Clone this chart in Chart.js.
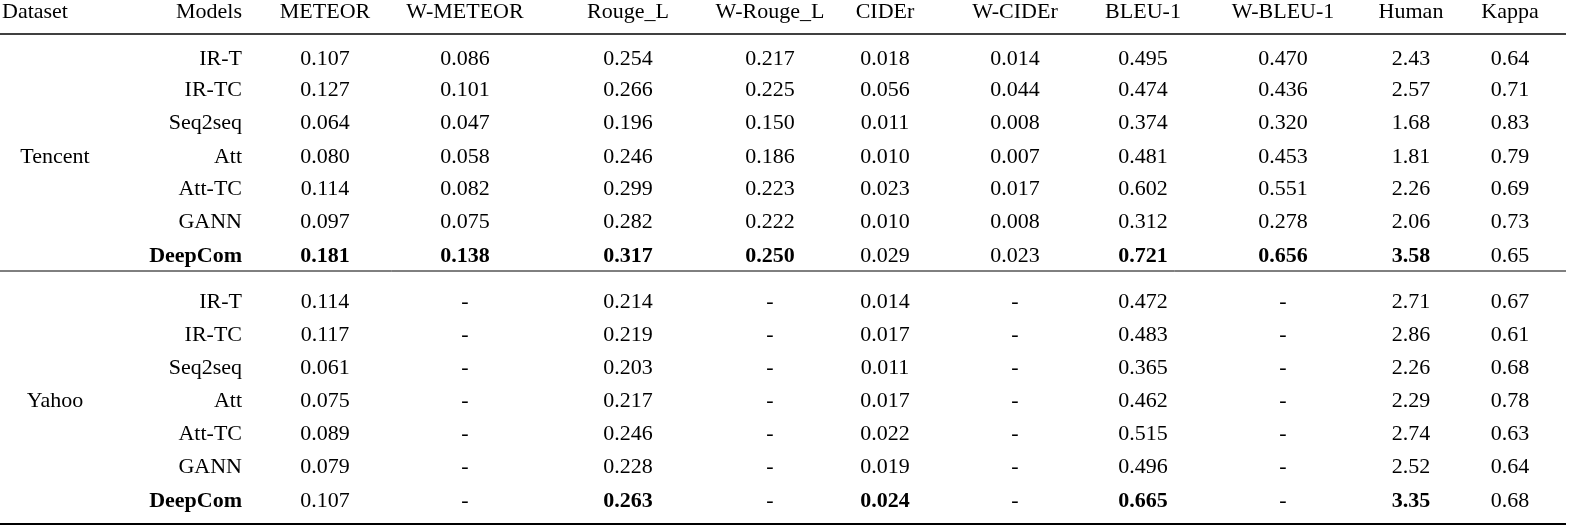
<!DOCTYPE html>
<html><head><meta charset="utf-8">
<script src="https://cdn.jsdelivr.net/npm/chart.js@4.4.1/dist/chart.umd.min.js"></script>
<style>html,body{margin:0;padding:0;background:#fff}#w{width:1571px;height:530px}</style>
</head><body><div id="w"><canvas id="c" width="1571" height="530"></canvas></div>
<script>
// ---- data ----
const headers = ["Dataset","Models","METEOR","W-METEOR","Rouge_L","W-Rouge_L","CIDEr","W-CIDEr","BLEU-1","W-BLEU-1","Human","Kappa"];
const datasets = ["Tencent","Yahoo"];
const models = ["IR-T","IR-TC","Seq2seq","Att","Att-TC","GANN","DeepCom"];
const tencentValues = [
 ["0.107","0.086","0.254","0.217","0.018","0.014","0.495","0.470","2.43","0.64"],
 ["0.127","0.101","0.266","0.225","0.056","0.044","0.474","0.436","2.57","0.71"],
 ["0.064","0.047","0.196","0.150","0.011","0.008","0.374","0.320","1.68","0.83"],
 ["0.080","0.058","0.246","0.186","0.010","0.007","0.481","0.453","1.81","0.79"],
 ["0.114","0.082","0.299","0.223","0.023","0.017","0.602","0.551","2.26","0.69"],
 ["0.097","0.075","0.282","0.222","0.010","0.008","0.312","0.278","2.06","0.73"],
 ["0.181","0.138","0.317","0.250","0.029","0.023","0.721","0.656","3.58","0.65"]];
const yahooValues = [
 ["0.114","-","0.214","-","0.014","-","0.472","-","2.71","0.67"],
 ["0.117","-","0.219","-","0.017","-","0.483","-","2.86","0.61"],
 ["0.061","-","0.203","-","0.011","-","0.365","-","2.26","0.68"],
 ["0.075","-","0.217","-","0.017","-","0.462","-","2.29","0.78"],
 ["0.089","-","0.246","-","0.022","-","0.515","-","2.74","0.63"],
 ["0.079","-","0.228","-","0.019","-","0.496","-","2.52","0.64"],
 ["0.107","-","0.263","-","0.024","-","0.665","-","3.35","0.68"]];
const tencentBold = [0,1,2,3,6,7,8];
const yahooBold = [2,4,6,8];

// ---- layout ----
const colX = [55,242,325,465,628,770,885,1015,1143,1283,1411,1510];
const headerY = 12;
const rowY = [[59,90,123,157,189,222,256],[302,335,368,401,434,467,501]];
const groupY = [157,401];
const rules = [[34,1.6],[271,1],[524,1.8]];

const tablePlugin = {
  id:'table',
  afterDraw(chart){
    const ctx=chart.ctx, xs=chart.scales.x, ys=chart.scales.y;
    const X=v=>xs.getPixelForValue(v), Y=v=>ys.getPixelForValue(v);
    ctx.save();
    ctx.fillStyle='#000'; ctx.textBaseline='middle';
    const font=b=>(b?'bold ':'')+'22px "Liberation Serif", "DejaVu Serif", serif';
    const txt=(s,x,y,align,b)=>{ctx.font=font(b);ctx.textAlign=align;ctx.fillText(s,X(x),Y(y));};
    headers.forEach((h,i)=>{
      if(i===0) txt(h,2,headerY,'left');
      else if(i===1) txt(h,colX[1],headerY,'right');
      else txt(h,colX[i],headerY,'center');
    });
    [tencentValues,yahooValues].forEach((vals,g)=>{
      txt(datasets[g],colX[0],groupY[g],'center');
      const bold = g===0?tencentBold:yahooBold;
      vals.forEach((row,r)=>{
        const last = r===models.length-1;
        txt(models[r],colX[1],rowY[g][r],'right',last);
        row.forEach((v,c)=>txt(v,colX[c+2],rowY[g][r],'center',last&&bold.includes(c)));
      });
    });
    ctx.strokeStyle='#000';
    rules.forEach(([y,w])=>{ctx.lineWidth=w;ctx.beginPath();ctx.moveTo(X(0),Y(y));ctx.lineTo(X(1566),Y(y));ctx.stroke();});
    ctx.restore();
  }
};
new Chart(document.getElementById('c'),{
  type:'scatter',
  data:{datasets:[{data:[]}]},
  options:{responsive:false,animation:false,devicePixelRatio:1,
    layout:{padding:0},
    plugins:{legend:{display:false},tooltip:{enabled:false}},
    scales:{x:{type:'linear',min:0,max:1571,display:false},
            y:{type:'linear',min:0,max:530,reverse:true,display:false}}},
  plugins:[tablePlugin]
});
</script></body></html>
